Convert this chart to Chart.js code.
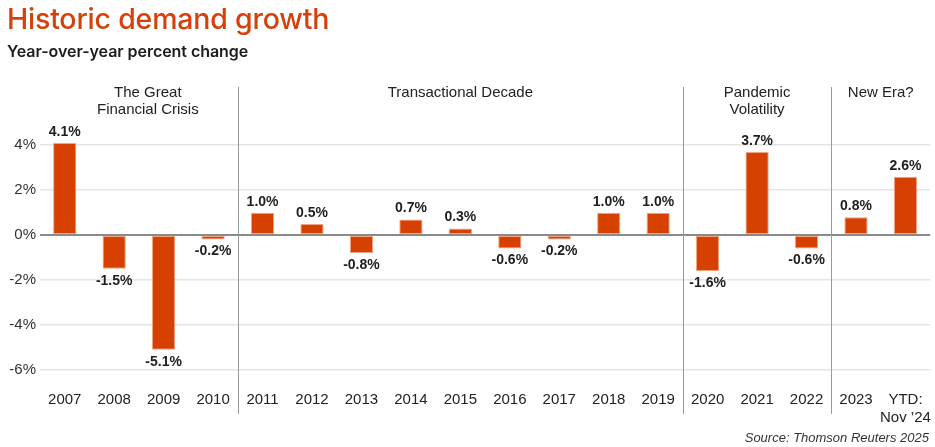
<!DOCTYPE html>
<html><head><meta charset="utf-8">
<script src="https://cdn.jsdelivr.net/npm/chart.js@4"></script>
<style>
html,body{margin:0;padding:0;background:#fff;width:935px;height:447px;overflow:hidden;font-family:"Liberation Sans",Arial,sans-serif;}
#wrap{position:absolute;left:0;top:0;width:935px;height:447px;}
#title{position:absolute;left:7px;top:1px;font-family:Inter,"Liberation Sans",sans-serif;font-size:28.5px;font-weight:500;color:#d6400a;letter-spacing:-0.2px;white-space:nowrap;}
#sub{position:absolute;left:7px;top:41px;font-family:Inter,"Liberation Sans",sans-serif;font-size:16px;font-weight:600;color:#1c1c1c;white-space:nowrap;letter-spacing:-0.05px;}
#src{position:absolute;right:6px;top:430px;font-size:13px;font-style:italic;color:#333;white-space:nowrap;}
</style></head><body>
<div id="wrap"><canvas id="c" width="935" height="447"></canvas></div>
<div id="title">Historic demand growth</div>
<div id="sub">Year-over-year percent change</div>
<div id="src">Source: Thomson Reuters 2025</div>
<script>
const categories = ["2007","2008","2009","2010","2011","2012","2013","2014","2015","2016","2017","2018","2019","2020","2021","2022","2023",["YTD:","Nov ’24"]];
const growth = [4.1,-1.5,-5.1,-0.2,1.0,0.5,-0.8,0.7,0.3,-0.6,-0.2,1.0,1.0,-1.6,3.7,-0.6,0.8,2.6];
const yTickValues = [-6,-4,-2,0,2,4];
const groupNames = [["The Great","Financial Crisis"],["Transactional Decade"],["Pandemic","Volatility"],["New Era?"]];
const groupAnchors = [1.68, 8, 14, 16.5];
const groupDividers = [3.5, 12.5, 15.5];

const annotPlugin = {
  id:'annot',
  afterDatasetsDraw(chart){
    const ctx = chart.ctx, x = chart.scales.x, y = chart.scales.y;
    const meta = chart.getDatasetMeta(0);
    ctx.save();
    ctx.font = 'bold 14px "Liberation Sans", Arial, sans-serif';
    ctx.fillStyle = '#1e1e1e';
    ctx.textAlign = 'center';
    meta.data.forEach((bar,i)=>{
      const v = growth[i];
      const t = v.toFixed(1)+'%';
      if (v >= 0){ ctx.textBaseline='bottom'; ctx.fillText(t, bar.x, bar.y-4); }
      else { ctx.textBaseline='top'; ctx.fillText(t, bar.x, bar.y+5); }
    });
    ctx.strokeStyle = '#9a9a9a'; ctx.lineWidth = 1;
    groupDividers.forEach(d=>{
      const px = Math.round((x.getPixelForValue(Math.floor(d))+x.getPixelForValue(Math.ceil(d)))/2)+0.5;
      ctx.beginPath(); ctx.moveTo(px, 87); ctx.lineTo(px, 414); ctx.stroke();
    });
    ctx.font = '15px "Liberation Sans", Arial, sans-serif';
    ctx.fillStyle = '#222';
    ctx.textBaseline = 'middle';
    groupNames.forEach((g,i)=>{
      const a = groupAnchors[i];
      const px = x.getPixelForValue(Math.floor(a)) + (a-Math.floor(a))*(x.getPixelForValue(1)-x.getPixelForValue(0));
      g.forEach((line,j)=>ctx.fillText(line, px, 93+j*16.5));
    });
    ctx.restore();
  }
};

new Chart(document.getElementById('c'), {
  type:'bar',
  data:{labels:categories, datasets:[{data:growth, backgroundColor:'#d64000', borderColor:'#f0a484', borderWidth:1, borderSkipped:false, barPercentage:0.47, categoryPercentage:1}]},
  options:{
    responsive:false, animation:false, devicePixelRatio:1,
    layout:{padding:{top:89,right:4,left:0,bottom:0}},
    plugins:{legend:{display:false}, tooltip:{enabled:false}},
    scales:{
      x:{
        grid:{display:false}, border:{display:false},
        ticks:{color:'#222', font:{size:15, family:'"Liberation Sans", Arial, sans-serif'}, padding:4, maxRotation:0, autoSkip:false},
        afterFit(s){ s.height = 68; }
      },
      y:{
        min:-6.4, max:6.5,
        border:{display:false},
        afterBuildTicks(s){ s.ticks = yTickValues.map(v=>({value:v})); },
        afterFit(s){ s.width = 40; },
        grid:{color:c=>c.tick && c.tick.value===0?'#8a8a8a':'#e4e4e4', lineWidth:c=>c.tick && c.tick.value===0?2:1.5, drawTicks:false},
        ticks:{color:'#333', font:{size:15, family:'"Liberation Sans", Arial, sans-serif'}, padding:4, callback:v=>v+'%'}
      }
    }
  },
  plugins:[annotPlugin]
});
</script>
</body></html>
